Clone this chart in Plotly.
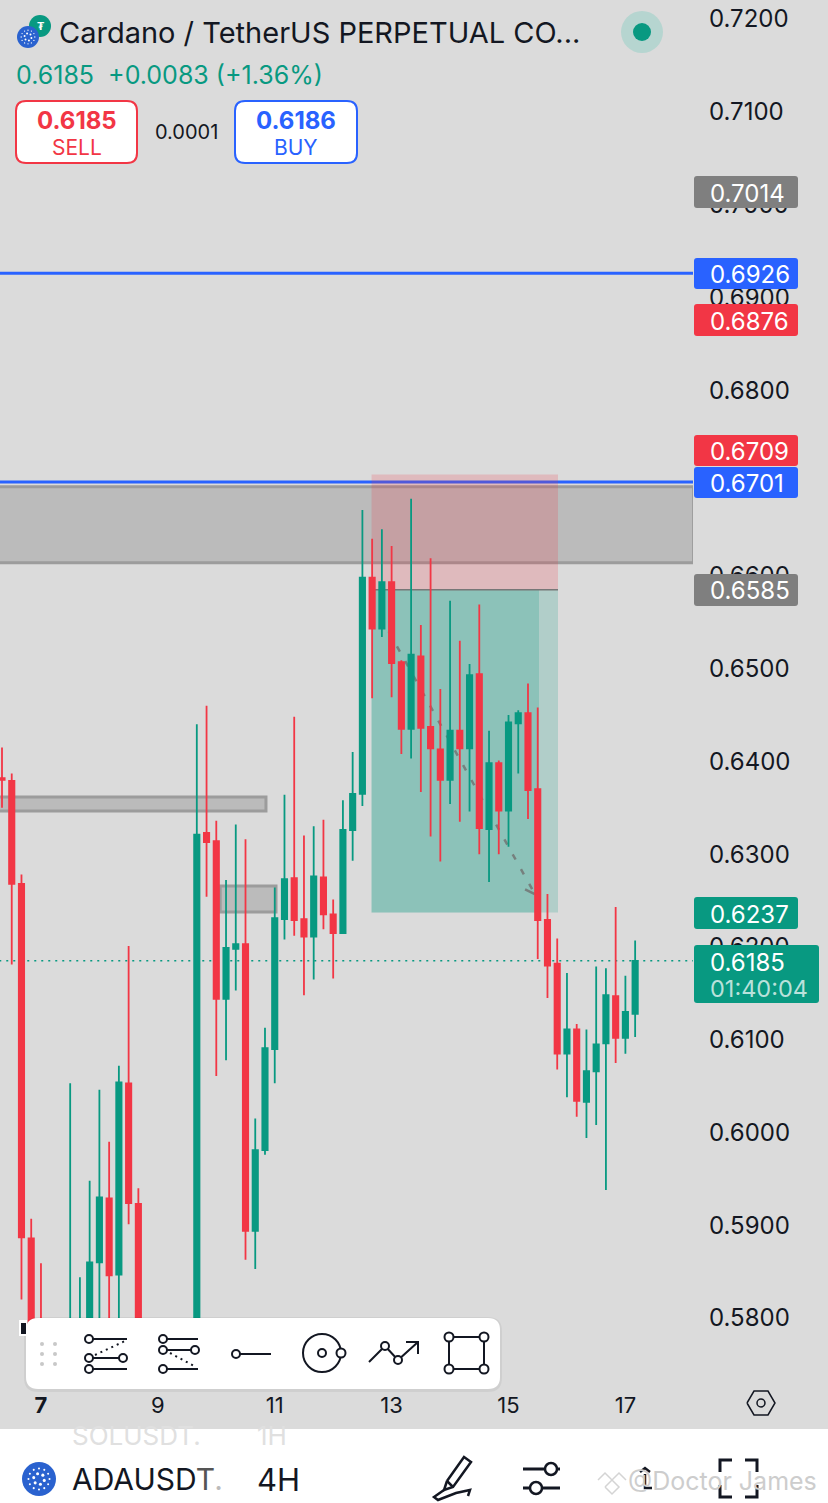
import math

import plotly.graph_objects as go

W, H = 828, 1503
BG = '#dbdbdb'
GREEN = '#089981'
RED = '#f23645'
BLUE = '#2962ff'
GRAY = '#7f7f7f'
FONT = 'Inter'

# 4H bars, numbered from the left edge; bars 5, 6 and 15-19 sit fully behind the toolbar
BAR = [0, 1, 2, 3, 4, 7, 8, 9, 10, 11, 12, 13, 14,
       20, 21, 22, 23, 24, 25, 26, 27, 28, 29, 30, 31, 32, 33, 34, 35, 36,
       37, 38, 39, 40, 41, 42, 43, 44, 45, 46, 47, 48, 49, 50, 51, 52, 53,
       54, 55, 56, 57, 58, 59, 60, 61, 62, 63, 64, 65]
OPEN = [.6382, .6379, .6268, .5886, .5790, .5760, .5770, .5790, .5860, .5929, .5847, .6053, .5923,
        .5770, .6323, .6314, .6144, .6198, .6203, .5894, .5981, .6090, .6230, .6274, .6230, .6211, .6275, .6235, .6215, .6326,
        .6365, .6598, .6543, .6593, .6507, .6435, .6513, .6437, .6413, .6380, .6433, .6414, .6494, .6327, .6398, .6347, .6441,
        .6452, .6370, .6229, .6182, .6085, .6111, .6033, .6066, .6096, .6147, .6102, .6128]
HIGH = [.6415, .6387, .6278, .5907, .5859, .6053, .5844, .5948, .6046, .5990, .6072, .6201, .5940,
        .6440, .6460, .6336, .6272, .6332, .6316, .6015, .6113, .6264, .6364, .6448, .6320, .6330, .6337, .6251, .6358, .6410,
        .6671, .6640, .6650, .6632, .6509, .6683, .6547, .6619, .6478, .6573, .6530, .6505, .6569, .6433, .6401, .6450, .6455,
        .6484, .6458, .6257, .6209, .6172, .6117, .6111, .6179, .6177, .6243, .6169, .6207]
LOW = [.6350, .6181, .5820, .5760, .5750, .5740, .5750, .5770, .5780, .5770, .5775, .5901, .5760,
       .5750, .6254, .6061, .6078, .6153, .5863, .5853, .5976, .6053, .6208, .6212, .6148, .6165, .6219, .6166, .6214, .6293,
       .6352, .6468, .6534, .6469, .6408, .6403, .6367, .6319, .6292, .6354, .6335, .6346, .6300, .6270, .6300, .6308, .6387,
       .6338, .6187, .6145, .6068, .6038, .6017, .5994, .6008, .5938, .6075, .6085, .6103]
CLOSE = [.6380, .6268, .5887, .5770, .5770, .5790, .5795, .5860, .5930, .5846, .6054, .5924, .5775,
         .6321, .6313, .6144, .6199, .6203, .5894, .5981, .6091, .6231, .6273, .6229, .6211, .6276, .6235, .6215, .6326, .6365,
         .6598, .6543, .6593, .6506, .6435, .6515, .6436, .6414, .6380, .6433, .6414, .6493, .6328, .6398, .6347, .6442, .6452,
         .6369, .6229, .6180, .6085, .6111, .6034, .6066, .6095, .6148, .6102, .6130, .6185]

X_TICKS = [4, 16, 28, 40, 52, 64]
X_LABELS = ['<b>7</b>', '9', '11', '13', '15', '17']
Y_TICKS = [.58, .59, .60, .61, .62, .63, .64, .65, .66, .67, .68, .69, .70, .71, .72]

LAST_PRICE = .6185
BLUE_LEVELS = [.6926, .6701]
ZONE_MAIN = (.6696, .6614)
ZONE_LEFT = (.63615, .63465)
ZONE_MID = (.62656, .62376)
RISK_TOP, ENTRY, TARGET = .6709, .6585, .6237
PATH_START = (39.7, .6540)
PATH_END = (54.7, .6257)
ARROW_TAIL = (53.7, .6262)

# (text, top px, bottom px, colour)
PRICE_TAGS = [
    ('0.7014', 176, 208, GRAY),
    ('0.6926', 258, 289, BLUE),
    ('0.6876', 304, 336, RED),
    ('0.6709', 435, 466, RED),
    ('0.6701', 467, 498, BLUE),
    ('0.6585', 574, 606, GRAY),
    ('0.6237', 897, 929, GREEN),
]


def px(x):
    return x / W


def py(y):
    return 1 - y / H


def rrect(x0, y0, x1, y1, r):
    return (f'M {px(x0 + r)} {py(y0)} L {px(x1 - r)} {py(y0)} Q {px(x1)} {py(y0)} {px(x1)} {py(y0 + r)} '
            f'L {px(x1)} {py(y1 - r)} Q {px(x1)} {py(y1)} {px(x1 - r)} {py(y1)} '
            f'L {px(x0 + r)} {py(y1)} Q {px(x0)} {py(y1)} {px(x0)} {py(y1 - r)} '
            f'L {px(x0)} {py(y0 + r)} Q {px(x0)} {py(y0)} {px(x0 + r)} {py(y0)} Z')


def poly(points, close=False):
    d = ' L '.join(f'{px(x)} {py(y)}' for x, y in points)
    return 'M ' + d + (' Z' if close else '')


def box(x0, y0, x1, y1, fill, line=None, lw=0, r=0):
    return dict(type='path', xref='paper', yref='paper', path=rrect(x0, y0, x1, y1, r),
                fillcolor=fill, line=dict(color=line or fill, width=lw), layer='above')


def dot(cx, cy, r, fill='white', line='#131722', lw=2):
    return dict(type='circle', xref='paper', yref='paper',
                x0=px(cx - r), x1=px(cx + r), y0=py(cy + r), y1=py(cy - r),
                fillcolor=fill, line=dict(color=line, width=lw), layer='above')


def seg(points, color='#131722', lw=2, dash=None):
    return dict(type='path', xref='paper', yref='paper', path=poly(points),
                line=dict(color=color, width=lw, dash=dash), layer='above')


def zone(x0, x1, y0, y1, fill, line=None, lw=0):
    return dict(type='rect', xref='x', yref='y', x0=x0, x1=x1, y0=y0, y1=y1,
                fillcolor=fill, line=dict(color=line or fill, width=lw), layer='below')


def text(x, y, s, size, color='#131722', anchor='left', **kw):
    # annotations pad their text by 2px, so pull left-aligned ones back
    shift = -2 if anchor == 'left' else 0
    return dict(xref='paper', yref='paper', x=px(x), y=py(y), text=s, showarrow=False,
                xanchor=anchor, yanchor='middle', align=anchor, xshift=shift,
                font=dict(family=FONT, size=size, color=color), **kw)


def cardano(cx, cy, r):
    out = [dot(cx, cy, r, fill='#2a62cf', line='#2a62cf', lw=0)]
    for k in range(12):
        a = k * math.pi / 6
        out.append(dot(cx + 0.62 * r * math.cos(a), cy + 0.62 * r * math.sin(a),
                       0.06 * r, fill='white', line='white', lw=0))
    for k in range(6):
        a = k * math.pi / 3 + 0.26
        out.append(dot(cx + 0.32 * r * math.cos(a), cy + 0.32 * r * math.sin(a),
                       0.09 * r, fill='white', line='white', lw=0))
    return out


fig = go.Figure(go.Candlestick(
    x=BAR, open=OPEN, high=HIGH, low=LOW, close=CLOSE,
    increasing=dict(line=dict(color=GREEN, width=1.8), fillcolor=GREEN),
    decreasing=dict(line=dict(color=RED, width=1.8), fillcolor=RED),
    whiskerwidth=0,
))

shapes = [
    zone(-1, 71, *ZONE_MAIN, '#bbbbbb', '#9c9c9c', 3),
    zone(-1, 27.1, *ZONE_LEFT, '#bbbbbb', '#9c9c9c', 3),
    zone(22.4, 28.13, *ZONE_MID, '#bbbbbb', '#9c9c9c', 3),
    dict(type='line', xref='x', yref='y', x0=-1, x1=71, y0=LAST_PRICE, y1=LAST_PRICE,
         line=dict(color=GREEN, width=1.5, dash='2px,5px'), layer='below'),
]
for lv in BLUE_LEVELS:
    shapes.append(dict(type='line', xref='x', yref='y', x0=-1, x1=71, y0=lv, y1=lv,
                       line=dict(color=BLUE, width=3), layer='below'))
shapes += [
    zone(37.94, 57.08, RISK_TOP, ENTRY, 'rgba(242,54,69,0.2)'),
    zone(37.94, 57.08, ENTRY, TARGET, 'rgba(8,153,129,0.2)'),
    zone(37.94, 55.13, ENTRY, TARGET, 'rgba(8,153,129,0.22)'),
    dict(type='line', xref='x', yref='y', x0=37.94, x1=57.08, y0=ENTRY, y1=ENTRY,
         line=dict(color='#777777', width=1.5), layer='below'),
    dict(type='line', xref='x', yref='y', x0=PATH_START[0], y0=PATH_START[1], x1=PATH_END[0], y1=PATH_END[1],
         line=dict(color='#76807e', width=2.5, dash='6px,11px'), layer='below'),
    dict(type='line', xref='x', yref='y', x0=ARROW_TAIL[0], y0=ARROW_TAIL[1], x1=PATH_END[0], y1=PATH_END[1],
         line=dict(color='#76807e', width=2.5), layer='below'),
]

# price tags
for label, top, bottom, color in PRICE_TAGS:
    shapes.append(box(694, top, 798, bottom, color, r=3))
shapes.append(box(694, 945, 819, 1003, GREEN, r=3))

# header
shapes += [
    dot(40, 26, 11, fill=GREEN, line=GREEN, lw=0),
    *cardano(28, 37, 11),
    dot(642, 32, 21, fill='#b6d5d0', line='#b6d5d0', lw=0),
    dot(642, 32, 9, fill=GREEN, line=GREEN, lw=0),
    box(16, 101, 137, 163, 'white', RED, 2, 10),
    box(235, 101, 357, 163, 'white', BLUE, 2, 10),
]

# toolbar
shapes += [
    box(24, 1317, 502, 1392, 'rgba(0,0,0,0.05)', r=14),
    box(19, 1320, 27, 1336, 'white'),
    box(21, 1323, 26, 1334, '#131722'),
    box(26, 1318, 500, 1389, 'white', r=12),
]
for dx in (42, 55):
    for dy in (1344, 1354, 1364):
        shapes.append(dot(dx, dy, 2, fill='#c8c8c8', line='#c8c8c8', lw=0))
shapes += [
    seg([(89, 1339), (127, 1339)]), seg([(89, 1358), (123, 1358)]), seg([(89, 1369), (127, 1369)]),
    seg([(95, 1355), (125, 1341)], lw=2, dash='2px,4px'),
    dot(89, 1339, 4), dot(89, 1358, 4), dot(123, 1358, 4), dot(89, 1369, 4),
    seg([(163, 1339), (198, 1339)]), seg([(163, 1350), (195, 1350)]), seg([(163, 1369), (198, 1369)]),
    seg([(170, 1353), (196, 1367)], lw=2, dash='2px,4px'),
    dot(163, 1339, 4), dot(163, 1350, 4), dot(195, 1350, 4), dot(163, 1369, 4),
    seg([(236, 1354), (271, 1354)]), dot(236, 1354, 4),
    dot(322, 1353, 19, fill='rgba(0,0,0,0)'), dot(322, 1353, 4), dot(341, 1353, 4.5),
    seg([(369, 1362), (385, 1346), (398, 1360), (418, 1342)]),
    seg([(406, 1342), (418, 1342), (418, 1354)]),
    dot(385, 1346, 4), dot(398, 1360, 4),
    seg([(449, 1337), (484, 1337), (484, 1369), (449, 1369), (449, 1337)]),
    dot(449, 1337, 4.5), dot(484, 1337, 4.5), dot(449, 1369, 4.5), dot(484, 1369, 4.5),
]

# settings hexagon on the time axis
shapes += [
    seg([(747, 1403), (754, 1391), (768, 1391), (775, 1403), (768, 1415), (754, 1415), (747, 1403)], lw=1.5),
    dot(761, 1403, 4, fill='rgba(0,0,0,0)', lw=1.5),
]

# bottom bar
shapes.append(box(0, 1429, 828, 1503, 'white'))
shapes += cardano(39, 1479, 17)
shapes += [
    seg([(447, 1481), (464, 1457), (471, 1462), (453, 1487), (444, 1490), (447, 1481)], lw=2.5),
    seg([(447, 1481), (453, 1487)], lw=2.5),
    seg([(444, 1490), (434, 1497), (438, 1500), (456, 1493), (470, 1490), (468, 1496)], lw=2.5),
    seg([(523, 1469), (560, 1469)], lw=3), dot(551, 1469, 6, lw=2.5),
    seg([(523, 1488), (560, 1488)], lw=3), dot(536, 1488, 6, lw=2.5),
    seg([(720, 1472), (720, 1460), (732, 1460)], lw=3), seg([(745, 1460), (757, 1460), (757, 1472)], lw=3),
    seg([(720, 1485), (720, 1497), (732, 1497)], lw=3), seg([(745, 1497), (757, 1497), (757, 1485)], lw=3),
    seg([(640, 1472), (645, 1468), (650, 1472)], lw=2.5),
    seg([(645, 1474), (645, 1488), (652, 1488)], lw=2.5),
    seg([(598, 1480), (605, 1473), (612, 1480), (619, 1473), (626, 1480)], color='#d4d4d4', lw=1.5),
    seg([(605, 1487), (612, 1480), (619, 1487), (612, 1494), (605, 1487)], color='#d4d4d4', lw=1.5),
]

annotations = [
    text(59, 32, 'Cardano / TetherUS PERPETUAL CO...', 29),
    text(16, 75, '0.6185&nbsp;&nbsp;+0.0083 (+1.36%)', 25, GREEN),
    text(40, 26, '<b>₮</b>', 11, 'white', 'center'),
    text(76.5, 120, '<b>0.6185</b>', 24, RED, 'center'),
    text(76.5, 147, 'SELL', 21, RED, 'center'),
    text(186, 132, '0.0001', 20, '#131722', 'center'),
    text(296, 120, '<b>0.6186</b>', 24, BLUE, 'center'),
    text(296, 147, 'BUY', 21, BLUE, 'center'),
    text(710, 962, '0.6185', 24, 'white'),
    text(710, 988, '01:40:04', 23.5, 'rgba(255,255,255,0.72)'),
    text(72, 1435, 'SOLUSDT.', 26, '#e0e0e0'),
    text(257, 1435, '1H', 26, '#e0e0e0'),
    text(72, 1479, 'ADAUSD<span style="color:#555">T</span><span style="color:#bbb">.</span>', 30),
    text(257, 1479, '4H', 31),
    text(628, 1481, '@Doctor James', 25, '#cdcdcd'),
]
for label, top, bottom, color in PRICE_TAGS:
    annotations.append(text(710, (top + bottom) / 2 + 1, label, 24, 'white'))

fig.update_layout(
    width=W, height=H,
    margin=dict(l=0, r=0, t=0, b=0),
    paper_bgcolor=BG, plot_bgcolor=BG,
    showlegend=False,
    boxgap=0.22,
    font=dict(family=FONT, color='#131722'),
    shapes=shapes,
    annotations=annotations,
    xaxis=dict(domain=[0, 693 / W], range=[-0.205, 70.94], rangeslider=dict(visible=False),
               tickvals=X_TICKS, ticktext=X_LABELS, tickfont=dict(size=22),
               showgrid=False, zeroline=False, showline=False, ticks='', ticklabelstandoff=0),
    yaxis=dict(domain=[1 - 1390 / H, 1], range=[.57225, .72205], side='right',
               tickvals=Y_TICKS, tickformat='.4f', tickfont=dict(size=24),
               showgrid=False, zeroline=False, showline=False, ticks='', ticklabelstandoff=15),
)

fig.write_html('out.html', config=dict(displayModeBar=False),
               post_script="document.body.style.margin='0';document.body.style.overflow='hidden';")
